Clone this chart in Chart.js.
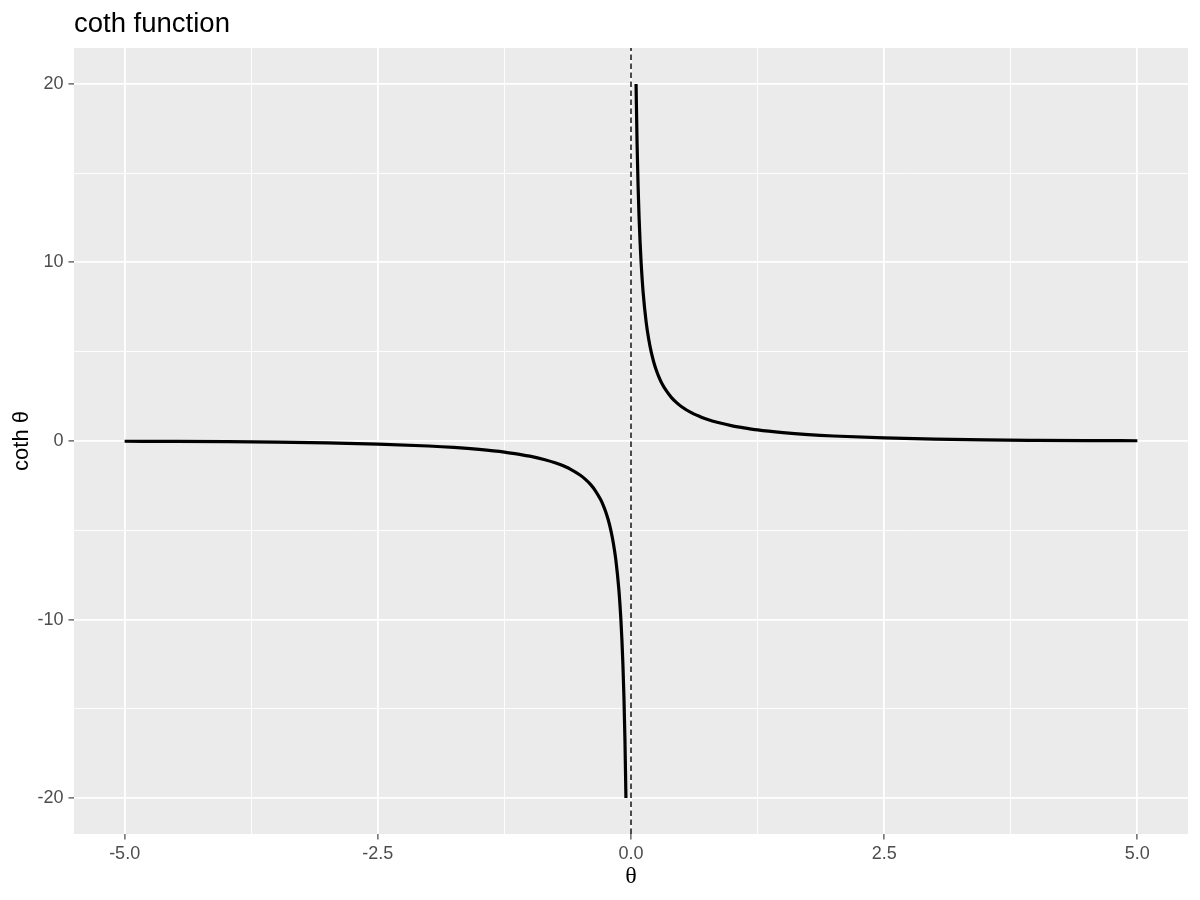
<!DOCTYPE html>
<html><head><meta charset="utf-8">
<script src="https://cdn.jsdelivr.net/npm/chart.js@4"></script>
<style>html,body{margin:0;padding:0;background:#fff}#wrap{width:1200px;height:900px}</style>
</head><body><div id="wrap"><canvas id="c" width="1200" height="900"></canvas></div>
<script>
// Curve values (right branch and left branch)
const xPos = [0.05,0.06,0.07,0.08,0.09,0.10,0.12,0.15,0.175,0.20,0.225,0.25,0.275,0.30,0.35,0.40,0.45,0.50,0.60,0.70,0.75,0.85,1.00,1.10,1.25,1.50,1.75,2.00,2.50,3.00,3.50,4.00,4.50,5.00];
const yPos = [19.99,16.66,14.27,12.49,11.10,9.98,8.31,6.64,5.69,4.97,4.41,3.96,3.59,3.28,2.80,2.43,2.15,1.92,1.57,1.32,1.22,1.05,0.85,0.75,0.62,0.47,0.36,0.28,0.17,0.10,0.06,0.037,0.022,0.013];
const xNeg = [-5.00,-4.50,-4.00,-3.50,-3.00,-2.50,-2.00,-1.75,-1.50,-1.25,-1.10,-1.00,-0.85,-0.75,-0.70,-0.60,-0.50,-0.45,-0.40,-0.35,-0.30,-0.275,-0.25,-0.225,-0.20,-0.175,-0.15,-0.12,-0.10,-0.09,-0.08,-0.07,-0.06,-0.05];
const yNeg = [-0.013,-0.022,-0.037,-0.06,-0.10,-0.17,-0.28,-0.36,-0.47,-0.62,-0.75,-0.85,-1.05,-1.22,-1.32,-1.57,-1.92,-2.15,-2.43,-2.80,-3.28,-3.59,-3.96,-4.41,-4.97,-5.69,-6.64,-8.31,-9.98,-11.10,-12.49,-14.27,-16.66,-19.99];
const vlineX = [0, 0];
const vlineY = [-22, 22];
const xMajor = [-5, -2.5, 0, 2.5, 5];
const xMajorLabels = ['-5.0', '-2.5', '0.0', '2.5', '5.0'];
const xMinor = [-3.75, -1.25, 1.25, 3.75];
const yMajor = [-20, -10, 0, 10, 20];
const yMajorLabels = ['-20', '-10', '0', '10', '20'];
const yMinor = [-15, -5, 5, 15];

const pts = (xs, ys) => xs.map((x, i) => ({x: x, y: ys[i]}));
const isMaj = (arr, ctx) => ctx && ctx.tick && arr.includes(ctx.tick.value);

const panelBg = {
  id: 'panelBg',
  beforeDraw(chart) {
    const a = chart.chartArea, c = chart.ctx;
    c.save(); c.fillStyle = '#EBEBEB';
    c.fillRect(a.left, a.top, a.right - a.left, a.bottom - a.top);
    c.restore();
  }
};

new Chart(document.getElementById('c'), {
  type: 'scatter',
  data: {
    datasets: [
      {data: pts(xPos, yPos), showLine: true, borderColor: '#000', borderWidth: 3.2, pointRadius: 0, cubicInterpolationMode: 'monotone', fill: false},
      {data: pts(xNeg, yNeg), showLine: true, borderColor: '#000', borderWidth: 3.2, pointRadius: 0, cubicInterpolationMode: 'monotone', fill: false},
      {data: pts(vlineX, vlineY), showLine: true, borderColor: '#000', borderWidth: 1.4, borderDash: [5.5, 3.5], pointRadius: 0, fill: false}
    ]
  },
  options: {
    responsive: false, animation: false, devicePixelRatio: 1,
    layout: {padding: {left: 0, right: 12, top: 0, bottom: 0}},
    plugins: {
      legend: {display: false}, tooltip: {enabled: false},
      title: {display: true, text: 'coth function', align: 'start', fullSize: false, color: '#000',
        font: {family: 'Liberation Sans', size: 27.5, weight: 'normal'}, padding: {top: 7.5, bottom: 7.5}}
    },
    scales: {
      x: {
        type: 'linear', min: -5.5, max: 5.5,
        afterBuildTicks: s => { s.ticks = xMajor.concat(xMinor).sort((a, b) => a - b).map(v => ({value: v})); },
        afterFit: s => { s.height = 66; },
        ticks: {autoSkip: false, maxRotation: 0, color: '#4D4D4D', padding: 4,
          font: {family: 'Liberation Sans', size: 18},
          callback: v => { const i = xMajor.indexOf(v); return i >= 0 ? xMajorLabels[i] : ''; }},
        grid: {color: '#FFFFFF', lineWidth: ctx => isMaj(xMajor, ctx) ? 1.8 : 0.9,
          tickColor: ctx => isMaj(xMajor, ctx) ? '#333333' : 'rgba(0,0,0,0)', tickLength: 5.5, tickWidth: 1.1},
        border: {display: false},
        title: {display: true, text: 'θ', color: '#000', font: {family: 'Liberation Serif', size: 24}, padding: {top: 0, bottom: 9}}
      },
      y: {
        type: 'linear', min: -22, max: 22,
        afterBuildTicks: s => { s.ticks = yMajor.concat(yMinor).sort((a, b) => a - b).map(v => ({value: v})); },
        afterFit: s => { s.width = 74; },
        ticks: {autoSkip: false, color: '#4D4D4D', padding: 5,
          font: {family: 'Liberation Sans', size: 18},
          callback: v => { const i = yMajor.indexOf(v); return i >= 0 ? yMajorLabels[i] : ''; }},
        grid: {color: '#FFFFFF', lineWidth: ctx => isMaj(yMajor, ctx) ? 1.8 : 0.9,
          tickColor: ctx => isMaj(yMajor, ctx) ? '#333333' : 'rgba(0,0,0,0)', tickLength: 5.5, tickWidth: 1.1},
        border: {display: false},
        title: {display: true, text: 'coth θ', color: '#000', font: {family: 'Liberation Sans', size: 22}, padding: {top: 9, bottom: 0}}
      }
    }
  },
  plugins: [panelBg]
});
</script>
</body></html>
